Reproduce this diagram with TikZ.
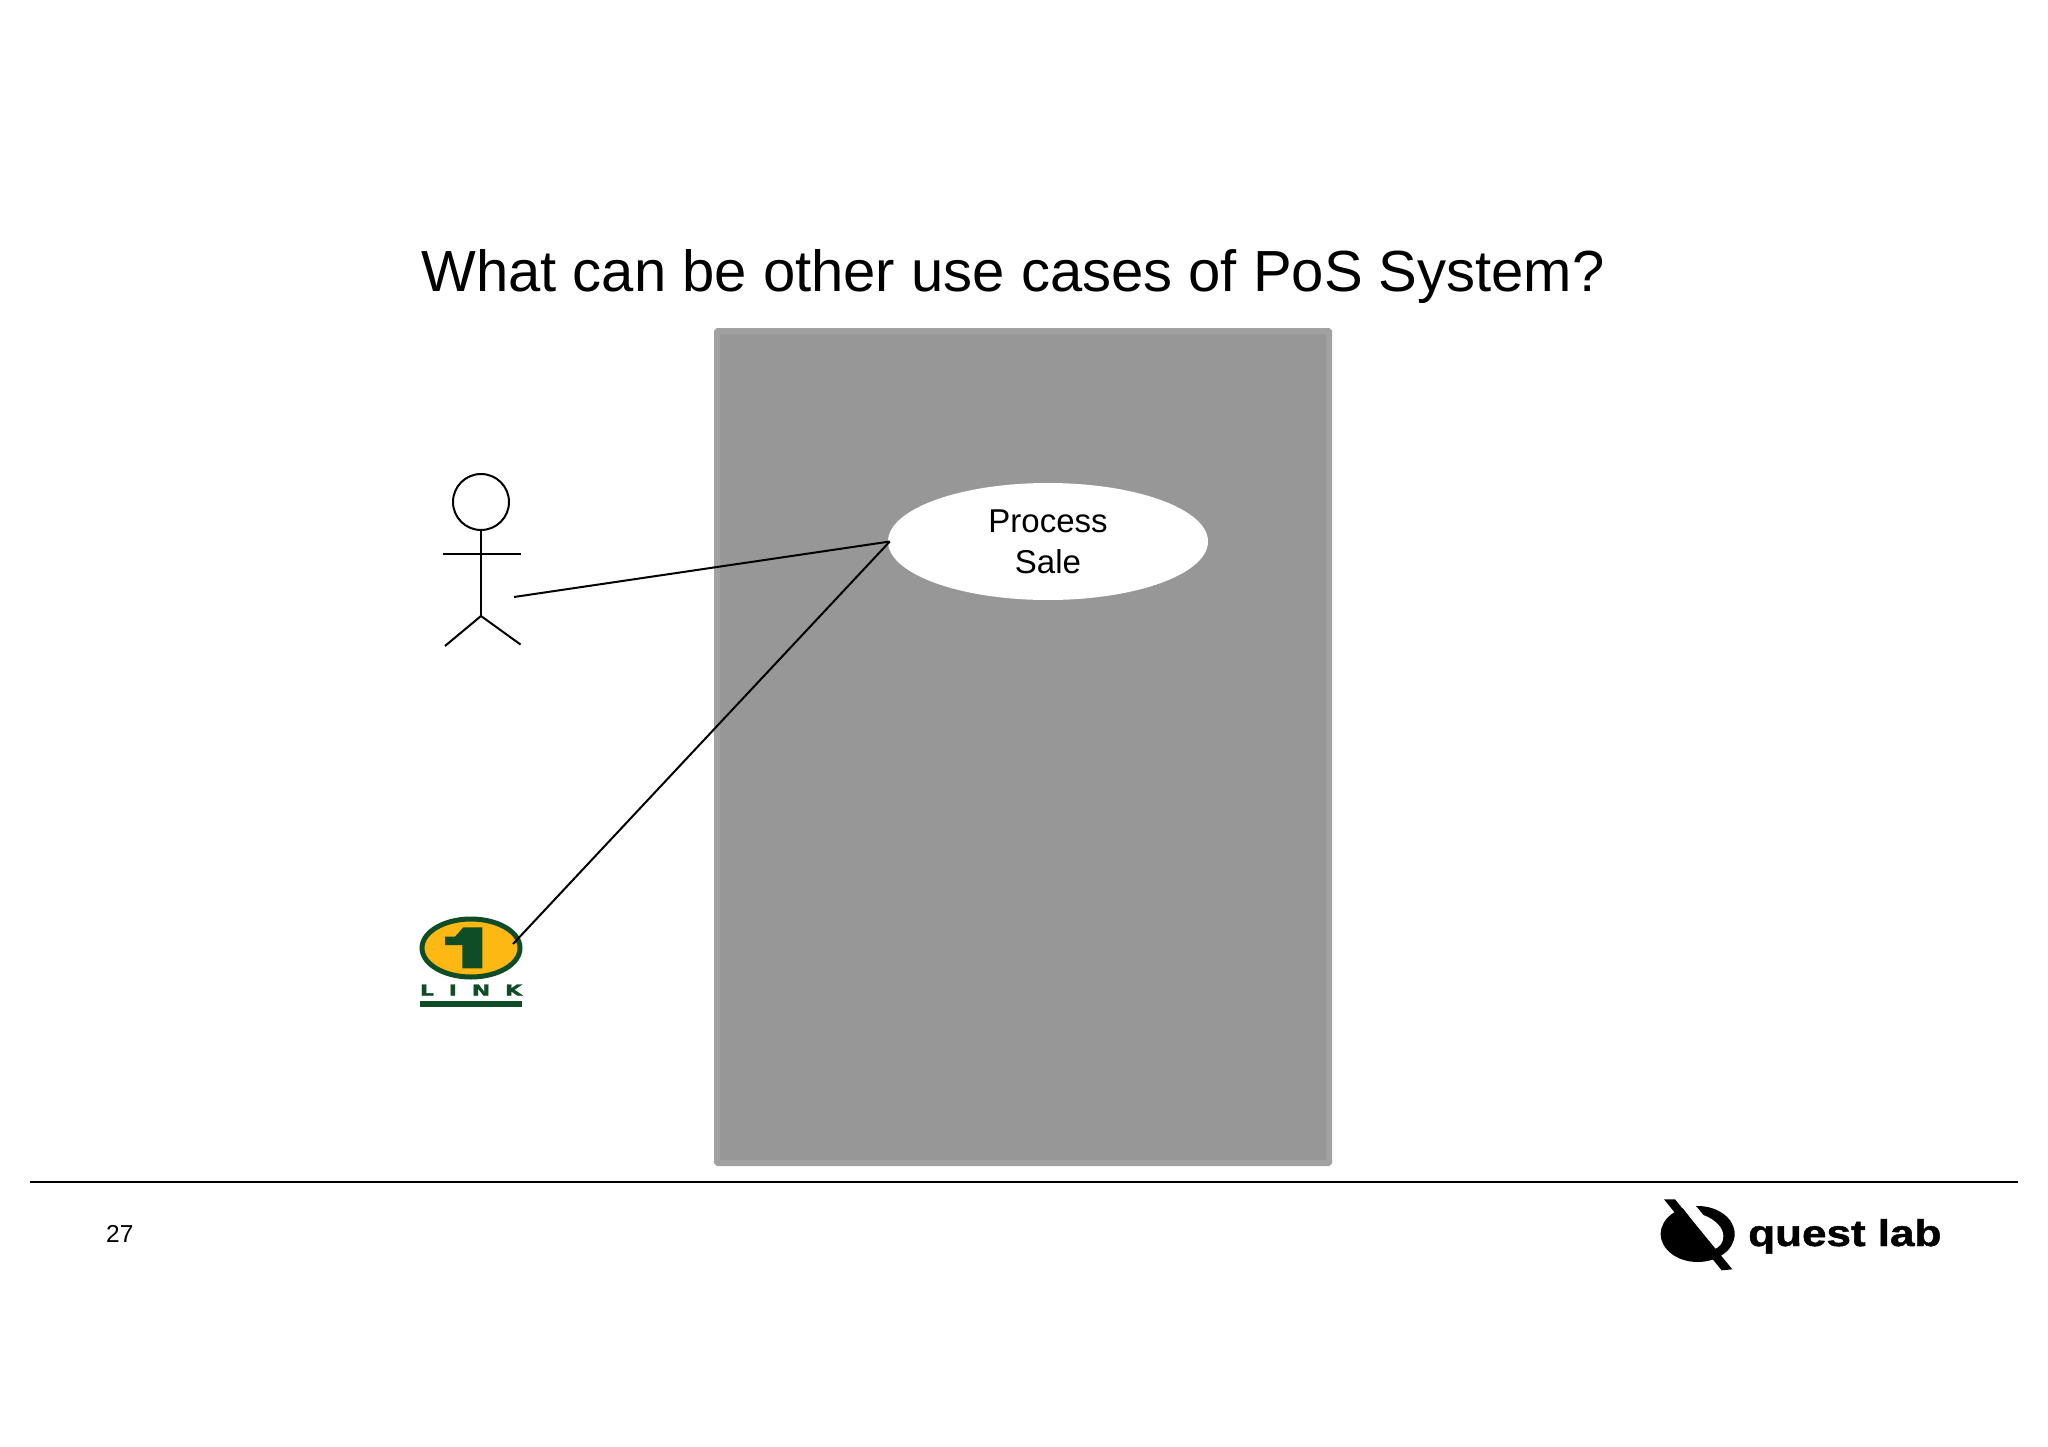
\documentclass[tikz,border=0pt]{standalone}
\usepackage{fontspec}
\setmainfont{Liberation Sans}
\newfontfamily\logofont[FakeBold=2]{DejaVu Sans Bold}
\newfontfamily\questfont[FakeBold=1.2]{Liberation Sans Bold}
\usetikzlibrary{shapes.geometric}
\definecolor{sysfill}{HTML}{979797}
\definecolor{sysedge}{HTML}{A1A1A1}
\definecolor{linkgreen}{HTML}{0F4D26}
\definecolor{linkgold}{HTML}{FDB813}
\newcommand{\wideletter}[1]{\scalebox{1.45}[1]{#1}}
\tikzset{
  px/.style={x=1pt,y=-1pt},
  ink/.style={draw=black,line width=2pt},
  usecase/.style={ellipse,fill=white,minimum width=320pt,minimum height=117pt,inner sep=0pt,align=center,font=\fontsize{33}{41}\selectfont},
}
\begin{document}
\begin{tikzpicture}[px]
\useasboundingbox (0,0) rectangle (2048,1447);
\fill[white] (0,0) rectangle (2048,1447);
\node[anchor=base,font=\fontsize{58}{70}\selectfont,inner sep=0pt] (title) at (1013,292) {What can be other use cases of PoS System?};
\node[draw=sysedge,fill=sysfill,line width=6pt,minimum width=612pt,minimum height=832pt,inner sep=0pt,rounded corners=1pt] (system) at (1023,747) {};
\node[usecase] (uc) at (1048,541.5) {Process\\Sale};
% actor
\node[circle,ink,minimum size=56pt,inner sep=0pt] (head) at (481,502) {};
\coordinate (crotch) at (481,616);
\coordinate (armL) at (443,554);
\coordinate (armR) at (520.5,554);
\coordinate (legL) at (445,646);
\coordinate (legR) at (520.5,644.5);
\coordinate (hand) at (514,597);
\draw[ink] (head.south) -- (crotch);
\draw[ink] (armL) -- (armR);
\draw[ink] (legL) -- (crotch) -- (legR);
% 1-Link logo
\node[ellipse,draw=linkgreen,fill=linkgold,line width=5pt,minimum width=98pt,minimum height=58pt,inner sep=0pt] (linkoval) at (471,948) {};
\fill[linkgreen,shift={(400,890)},scale=1/3] (135,140) -- (165,140) -- (190,112) -- (247,112) -- (247,235) -- (187,235) -- (187,165) -- (135,165) -- cycle;
\node[anchor=base,inner sep=0pt,font=\logofont\fontsize{15}{15}\selectfont,text=linkgreen] (linktext) at (471,995.5) {\makebox[102pt][s]{\wideletter{L}\hfil\wideletter{I}\hfil\wideletter{N}\hfil\wideletter{K}}};
\fill[linkgreen] (420,1001) rectangle (522,1006.5);
\coordinate (linkend) at (513,944);
% connectors
\draw[ink] (hand) -- ([xshift=2pt]uc.west);
\draw[ink] (linkend) -- ([xshift=2pt]uc.west);
% footer
\coordinate (ruleL) at (30,1182);
\coordinate (ruleR) at (2018,1182);
\draw[ink] (ruleL) -- (ruleR);
\node[anchor=base west,inner sep=0pt,font=\fontsize{24.5}{28}\selectfont] (page) at (106,1242) {27};
% quest lab logo
\begin{scope}[shift={(1640,1181)},scale=1/3]
\fill[black] (173,159) ellipse [x radius=111,y radius=84];
\fill[white] (105,50) -- (170,78) -- (190,102) .. controls (225,115) and (250,140) .. (250,165) .. controls (250,185) and (240,198) .. (222,205) -- cycle;
\fill[white] (60,45) rectangle (168,62);
\fill[white] (105,55) -- (168,55) -- (168,80) -- cycle;
\fill[black] (72,55) -- (105,55) -- (277,265) -- (245,268) -- cycle;
\end{scope}
\node[anchor=base west,inner sep=0pt,font=\questfont\fontsize{37}{37}\selectfont] (quest) at (1748,1246) {\scalebox{1.19}[1]{quest lab}};
\end{tikzpicture}
\end{document}
